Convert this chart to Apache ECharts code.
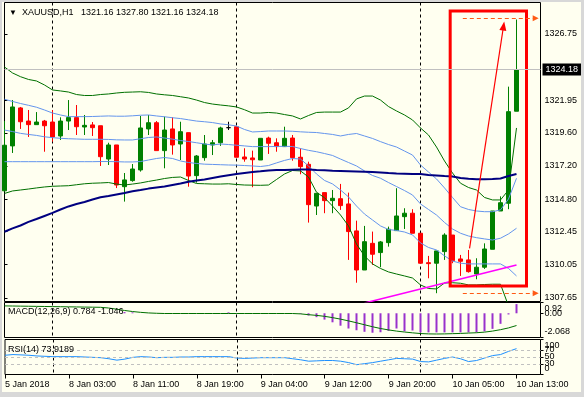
<!DOCTYPE html>
<html>
<head>
<meta charset="utf-8">
<script src="https://cdn.jsdelivr.net/npm/echarts@6/dist/echarts.min.js"></script>
<style>
html, body { margin: 0; padding: 0; background: #d8d8d8; width: 584px; height: 397px; overflow: hidden; }
#chart { position: absolute; left: 2px; top: 2px; width: 579px; height: 390px; }
</style>
</head>
<body>
<div id="chart"></div>
<script>
// H1 bars, 5 Jan 18:00 .. 10 Jan 13:00 plus 3 empty slots (chart shift)
const categories = [
  '5 Jan 18:00','5 Jan 19:00','5 Jan 20:00','5 Jan 21:00','5 Jan 22:00','5 Jan 23:00',
  '8 Jan 01:00','8 Jan 02:00','8 Jan 03:00','8 Jan 04:00','8 Jan 05:00','8 Jan 06:00','8 Jan 07:00','8 Jan 08:00',
  '8 Jan 09:00','8 Jan 10:00','8 Jan 11:00','8 Jan 12:00','8 Jan 13:00','8 Jan 14:00','8 Jan 15:00','8 Jan 16:00',
  '8 Jan 17:00','8 Jan 18:00','8 Jan 19:00','8 Jan 20:00','8 Jan 21:00','8 Jan 22:00','8 Jan 23:00',
  '9 Jan 01:00','9 Jan 02:00','9 Jan 03:00','9 Jan 04:00','9 Jan 05:00','9 Jan 06:00','9 Jan 07:00','9 Jan 08:00',
  '9 Jan 09:00','9 Jan 10:00','9 Jan 11:00','9 Jan 12:00','9 Jan 13:00','9 Jan 14:00','9 Jan 15:00','9 Jan 16:00',
  '9 Jan 17:00','9 Jan 18:00','9 Jan 19:00','9 Jan 20:00','9 Jan 21:00','9 Jan 22:00','9 Jan 23:00',
  '10 Jan 01:00','10 Jan 02:00','10 Jan 03:00','10 Jan 04:00','10 Jan 05:00','10 Jan 06:00','10 Jan 07:00','10 Jan 08:00',
  '10 Jan 09:00','10 Jan 10:00','10 Jan 11:00','10 Jan 12:00','10 Jan 13:00','10 Jan 14:00','10 Jan 15:00','10 Jan 16:00'
];
const tickIdx = [0, 8, 16, 24, 32, 40, 48, 56, 64];
const tickText = ['5 Jan 2018', '8 Jan 03:00', '8 Jan 11:00', '8 Jan 19:00', '9 Jan 04:00',
  '9 Jan 12:00', '9 Jan 20:00', '10 Jan 05:00', '10 Jan 13:00'];
const daySeps = [6, 29, 52]; // first bar of each day

const opens = [1315.40,1318.65,1321.40,1320.45,1320.19,1320.45,1320.38,1319.37,1320.45,1320.70,
  1320.02,1320.17,1320.11,1317.70,1318.72,1315.70,1316.14,1316.91,1319.88,1320.33,
  1318.31,1319.88,1318.79,1319.61,1316.50,1317.80,1318.72,1318.88,1319.97,1320.04,
  1317.85,1317.78,1317.63,1319.22,1318.88,1318.60,1319.22,1317.83,1317.32,1314.30,
  1315.27,1314.69,1314.83,1314.45,1312.50,1309.67,1311.60,1310.93,1311.65,1312.52,
  1313.53,1313.78,1312.33,1310.20,1310.16,1311.00,1312.20,1310.47,1310.40,1309.38,
  1309.87,1311.17,1313.94,1314.50,1321.16];
const highs = [1320.45,1321.97,1321.47,1321.25,1321.10,1320.53,1321.25,1320.72,1321.97,1321.61,
  1320.89,1320.38,1320.11,1318.88,1318.72,1316.69,1317.34,1320.82,1320.89,1320.45,
  1320.77,1320.72,1320.40,1319.61,1317.99,1319.44,1319.08,1320.04,1320.40,1320.04,
  1318.48,1318.31,1319.20,1319.32,1319.20,1320.04,1319.44,1318.48,1317.51,1315.22,
  1315.27,1315.46,1315.90,1315.27,1313.24,1312.86,1312.45,1311.77,1312.81,1315.59,
  1314.14,1314.07,1312.33,1310.69,1311.05,1312.33,1312.20,1310.76,1311.12,1310.52,
  1311.60,1313.94,1315.00,1322.94,1327.80];
const lows = [1315.35,1318.14,1319.88,1319.30,1320.19,1318.23,1318.96,1319.08,1319.80,1319.44,
  1319.44,1319.37,1317.20,1317.27,1315.60,1314.62,1316.06,1316.79,1319.44,1318.31,
  1317.03,1318.02,1317.63,1315.70,1315.99,1317.58,1317.99,1318.65,1319.80,1317.83,
  1317.51,1315.66,1317.63,1318.07,1318.23,1318.60,1317.58,1316.60,1313.10,1313.65,
  1313.78,1313.78,1314.02,1310.40,1308.75,1309.67,1310.04,1309.87,1311.36,1312.52,
  1312.64,1312.33,1310.16,1309.07,1307.99,1310.40,1310.16,1309.24,1309.48,1309.00,
  1309.75,1311.17,1313.94,1314.07,1321.16];
const closes = [1318.70,1321.47,1320.40,1320.19,1320.38,1320.11,1319.30,1320.45,1320.70,1320.04,
  1320.14,1319.97,1317.87,1318.72,1315.82,1316.19,1316.98,1319.95,1320.33,1318.31,
  1319.80,1318.72,1319.68,1316.47,1317.92,1318.79,1318.88,1319.95,1319.97,1317.83,
  1317.70,1317.65,1319.20,1318.84,1318.60,1319.20,1317.80,1317.15,1314.40,1315.22,
  1314.69,1314.86,1314.33,1312.45,1309.67,1311.72,1310.81,1311.70,1312.62,1313.58,
  1313.78,1312.33,1310.16,1310.13,1311.05,1312.20,1310.35,1310.30,1309.55,1309.87,
  1311.19,1313.94,1314.54,1321.13,1324.18];

// indicator lines on the price window
const greenUpper = [1324.36,1323.93,1323.66,1323.46,1323.35,1323.06,1322.70,1322.63,1322.55,1322.37,
  1322.30,1322.30,1322.37,1322.41,1322.48,1322.53,1322.55,1322.57,1322.52,1322.41,
  1322.35,1322.30,1322.21,1322.12,1321.97,1321.79,1321.68,1321.61,1321.55,1321.47,
  1321.27,1321.03,1321.03,1321.07,1321.03,1320.92,1320.82,1320.60,1320.85,1321.07,
  1321.10,1321.10,1321.10,1321.40,1322.05,1322.26,1322.26,1321.97,1321.50,1321.18,
  1320.89,1320.53,1319.95,1319.44,1318.57,1317.56,1316.69,1315.95,1315.64,1315.46,
  1314.92,1314.74,1314.74,1315.46,1319.95];
const greenLower = [1315.21,1315.39,1315.46,1315.53,1315.61,1315.68,1315.73,1315.75,1315.77,1315.84,
  1315.91,1315.95,1315.97,1316.00,1315.89,1315.82,1315.89,1315.97,1316.08,1316.18,
  1316.29,1316.37,1316.40,1316.15,1315.93,1315.91,1315.89,1315.89,1315.91,1315.86,
  1315.82,1315.81,1315.80,1315.82,1316.22,1316.62,1316.87,1316.84,1316.40,1315.30,
  1314.90,1314.30,1313.65,1312.86,1311.55,1310.69,1310.11,1309.78,1309.53,1309.38,
  1309.24,1309.09,1308.59,1308.33,1308.30,1308.73,1308.75,1308.71,1308.59,1308.59,
  1308.62,1308.64,1308.64,1307.07,1305.33];
const blueUpper = [1322.03,1321.87,1321.72,1321.59,1321.45,1321.25,1321.03,1320.89,1320.77,1320.77,
  1320.77,1320.78,1320.80,1320.82,1320.80,1320.80,1320.83,1320.87,1320.89,1320.82,
  1320.76,1320.69,1320.63,1320.54,1320.45,1320.40,1320.34,1320.24,1320.18,1320.09,
  1319.84,1319.66,1319.69,1319.73,1319.73,1319.73,1319.71,1319.67,1319.64,1319.62,
  1319.55,1319.48,1319.37,1319.48,1319.55,1319.37,1319.19,1318.96,1318.75,1318.57,
  1318.28,1317.99,1317.27,1316.76,1316.26,1315.61,1314.92,1314.25,1314.05,1313.94,
  1313.89,1313.89,1314.02,1314.81,1316.31];
const blueMiddle = [1319.80,1319.69,1319.56,1319.48,1319.41,1319.31,1319.25,1319.20,1319.17,1319.15,
  1319.13,1319.13,1319.13,1319.12,1319.09,1319.08,1319.08,1319.17,1319.26,1319.30,
  1319.22,1319.14,1319.04,1318.97,1318.88,1318.79,1318.72,1318.79,1318.75,1318.70,
  1318.65,1318.60,1318.60,1318.60,1318.61,1318.62,1318.61,1318.46,1318.33,1318.23,
  1318.10,1317.96,1317.70,1317.45,1317.20,1316.84,1316.51,1316.31,1316.00,1315.71,
  1315.42,1315.10,1314.45,1314.05,1313.65,1313.11,1312.64,1312.33,1312.13,1312.01,
  1311.92,1311.84,1311.97,1312.28,1312.69];
const blueLower = [1317.51,1317.51,1317.51,1317.51,1317.51,1317.51,1317.51,1317.51,1317.51,1317.51,
  1317.51,1317.51,1317.52,1317.52,1317.51,1317.49,1317.49,1317.52,1317.63,1317.74,
  1317.81,1317.74,1317.56,1317.45,1317.38,1317.33,1317.31,1317.29,1317.27,1317.26,
  1317.23,1317.20,1317.16,1317.23,1317.42,1317.60,1317.74,1317.70,1317.20,1316.62,
  1316.15,1315.90,1315.46,1314.96,1314.30,1313.72,1313.29,1312.86,1312.60,1312.53,
  1312.42,1312.21,1311.63,1311.30,1311.12,1310.69,1310.32,1310.16,1310.11,1310.11,
  1310.11,1310.11,1310.11,1309.78,1309.24];
const slowMa = [1312.44,1312.68,1312.89,1313.15,1313.36,1313.58,1313.80,1314.05,1314.27,1314.45,
  1314.59,1314.77,1314.93,1315.03,1315.14,1315.24,1315.37,1315.46,1315.56,1315.64,
  1315.71,1315.82,1315.93,1316.06,1316.15,1316.22,1316.33,1316.44,1316.53,1316.62,
  1316.69,1316.76,1316.81,1316.87,1316.91,1316.91,1316.93,1316.95,1316.95,1316.91,
  1316.89,1316.86,1316.84,1316.82,1316.80,1316.78,1316.76,1316.73,1316.69,1316.66,
  1316.64,1316.62,1316.62,1316.55,1316.51,1316.47,1316.44,1316.33,1316.27,1316.24,
  1316.24,1316.26,1316.29,1316.47,1316.62];

// MACD(12,26,9) and RSI(14)
const macdMain = [0,0,0,0,0,0,0,0,0,0,
  0,0,0,0,0,0.1,0.08,0,0,0,
  0,0,0,0,0,0,0,0,0.08,0,
  0,0,0,0,0,0,0,-0.05,-0.19,-0.33,
  -0.54,-0.77,-1.06,-1.3,-1.45,-1.58,-1.66,-1.62,-1.5,-1.3,
  -1.54,-1.47,-1.63,-1.63,-1.63,-1.63,-1.63,-1.63,-1.63,-1.63,
  -1.54,-1.33,-0.9,-0.1,0.784];
const macdSignal = [0.63,0.62,0.61,0.60,0.59,0.58,0.57,0.56,0.55,0.54,
  0.53,0.52,0.51,0.45,0.35,0.24,0.15,0.08,0.03,0.0,
  -0.02,-0.02,-0.02,-0.02,-0.02,-0.02,-0.02,-0.02,-0.02,-0.02,
  -0.02,-0.02,-0.02,-0.02,-0.02,-0.02,-0.02,-0.05,-0.12,-0.18,
  -0.26,-0.37,-0.50,-0.65,-0.81,-0.98,-1.15,-1.30,-1.42,-1.52,
  -1.60,-1.67,-1.73,-1.76,-1.77,-1.76,-1.74,-1.72,-1.69,-1.66,
  -1.61,-1.52,-1.40,-1.25,-1.046];
const rsi = [55,57,56,55,53,52,51,51,51,51,
  50,49,48,45,41,44,49,51,50,48,
  49,49,50,50,51,51,51,51,51,47,
  46,47,48,48,48,48,45,42,38,39,
  40,40,38,34,28,31,34,38,42,46,
  45,44,37,36,41,46,50,45,37,40,
  47,54,57,66,73.9189];

// axis tick labels (sub-window labels split into layers, they overlap in the original)
const priceTicks = [1326.75, 1321.95, 1319.60, 1317.20, 1314.80, 1312.45, 1310.05, 1307.65];
const macdRange = [-2.068, 0.92];
const macdEdgeTicks = [0.92, -2.068];
const macdEdgeText = ['0.92', '-2.068'];
const macdZeroTicks = [0];
const rsiRange = [0, 100];
const rsiEdgeTicks = [100, 0];
const rsiMidTicks = [70, 30];
const rsiCenterTicks = [50];
const rsiLevels = [70, 50, 30];

// drawn objects (bar index, price)
const trendLine = [[45, 1307.28], [64.0, 1310.03]];
const boxX = [55.71, 65.25];
const boxY = [1308.52, 1328.41];
const arrowUp = [[58.13, 1311.24], [62.38, 1327.33]];
const hiMark = [[57.29, 1327.89], [66.4, 1327.89]];
const loMark = [[57.29, 1307.99], [66.4, 1307.99]];

const FONT = '"Liberation Sans", Arial, sans-serif';
const last = closes.length - 1;
const candles = opens.map((o, i) => [o, closes[i], lows[i], highs[i]]);
const isSep = (idx) => daySeps.indexOf(idx) >= 0;
const isTick = (idx) => tickIdx.indexOf(idx) >= 0;

const sepLine = { show: true, interval: isSep, lineStyle: { color: '#000', width: 1, type: [3, 3] } };
const boxPath = [[boxX[0], boxY[1]], [boxX[1], boxY[1]], [boxX[1], boxY[0]], [boxX[0], boxY[0]], [boxX[0], boxY[1]]];

const grids = [
  { left: 2.5, top: 0.5, width: 536, height: 299 },
  { left: 2.5, top: 300.5, width: 536, height: 35 },
  { left: 2.5, top: 337.5, width: 536, height: 35 }
].map(g => Object.assign(g, { show: true, borderColor: '#000', borderWidth: 1, backgroundColor: '#fffff0' }));

const catAxis = (gi) => ({
  type: 'category', gridIndex: gi, data: categories, boundaryGap: false,
  axisLine: { show: false }, axisTick: { show: false }, axisLabel: { show: false },
  splitLine: sepLine
});

// right-hand value axis showing only the given labels
const valAxis = (gi, range, ticks, formatter, rich) => ({
  type: 'value', gridIndex: gi, position: 'right', min: range[0], max: range[1],
  axisLine: { show: false }, splitLine: { show: false },
  axisTick: { show: true, customValues: ticks, length: 3, lineStyle: { color: '#000' } },
  axisLabel: {
    customValues: ticks, margin: 4, fontSize: 9, color: '#000', fontFamily: FONT,
    showMinLabel: true, showMaxLabel: true, hideOverlap: false, formatter, rich
  }
});

const edgeRich = { hi: { padding: [13, 0, 0, 0], fontSize: 9 }, lo: { padding: [0, 0, 12, 0], fontSize: 9 } };

const lineSeries = (name, data, color, width) => ({
  name, type: 'line', data, xAxisIndex: 0, yAxisIndex: 0,
  showSymbol: false, symbol: 'none', silent: true,
  lineStyle: { color, width }
});

const textBase = { fontSize: 9, color: '#000', fontFamily: FONT };

const myChart = echarts.init(document.getElementById('chart'));
const option = {
  animation: false,
  backgroundColor: '#fffff0',
  textStyle: { fontFamily: FONT },
  title: [
    {
      text: '{tri|▼}XAUUSD,H1   ' + [opens[last], highs[last], lows[last], closes[last]].map(v => v.toFixed(2)).join(' '),
      left: 7, top: 6, padding: 0,
      textStyle: Object.assign({ fontWeight: 'normal', rich: { tri: { fontSize: 8, padding: [0, 5, 0, 0], color: '#000' } } }, textBase)
    },
    {
      text: 'MACD(12,26,9) ' + macdMain[last].toFixed(3) + ' ' + macdSignal[last].toFixed(3),
      left: 6, top: 305.5, padding: 0,
      textStyle: Object.assign({ fontWeight: 'normal' }, textBase)
    },
    {
      text: 'RSI(14) ' + rsi[last].toFixed(4),
      left: 6, top: 343, padding: 0,
      textStyle: Object.assign({ fontWeight: 'normal' }, textBase)
    }
  ],
  grid: grids,
  xAxis: [
    catAxis(0),
    catAxis(1),
    Object.assign(catAxis(2), {
      axisTick: { show: true, interval: isTick, length: 4, lineStyle: { color: '#000' } },
      axisLabel: {
        show: true, interval: isTick, align: 'left', margin: 6,
        fontSize: 9, color: '#000', fontFamily: FONT,
        formatter: (v, idx) => tickText[tickIdx.indexOf(idx)] || ''
      }
    }),
    { type: 'value', gridIndex: 0, min: 0, max: categories.length - 1, show: false }
  ],
  yAxis: [
    valAxis(0, [1307.39, 1329.03], priceTicks, v => v.toFixed(2)),
    valAxis(1, macdRange, macdEdgeTicks, v => {
      const k = macdEdgeTicks.indexOf(v);
      return (k === 0 ? '{hi|' : '{lo|') + macdEdgeText[k] + '}';
    }, edgeRich),
    valAxis(2, rsiRange, rsiEdgeTicks, v => (v === rsiEdgeTicks[0] ? '{hi|' : '{lo|') + v + '}', edgeRich),
    valAxis(1, macdRange, macdZeroTicks, v => v.toFixed(2)),
    valAxis(2, rsiRange, rsiMidTicks, v => String(v)),
    valAxis(2, rsiRange, rsiCenterTicks, v => String(v))
  ],
  series: [
    {
      name: 'XAUUSD', type: 'candlestick', data: candles, xAxisIndex: 0, yAxisIndex: 0,
      barWidth: 4, silent: true,
      itemStyle: {
        color: '#008000', color0: '#ff0000',
        borderColor: '#008000', borderColor0: '#ff0000', borderColorDoji: '#000000', borderWidth: 1
      },
      markLine: {
        silent: true, symbol: ['none', 'none'], animation: false,
        lineStyle: { color: '#c0c0c0', type: 'solid', width: 1 },
        label: {
          show: true, position: 'end', distance: 2, formatter: closes[last].toFixed(2),
          color: '#fff', backgroundColor: '#000', padding: [2, 3, 1, 3], fontSize: 9, fontFamily: FONT
        },
        data: [{ yAxis: closes[last] }]
      }
    },
    lineSeries('Bands up', greenUpper, '#007000', 1),
    lineSeries('Bands low', greenLower, '#007000', 1),
    lineSeries('BB up', blueUpper, '#6495ed', 1),
    lineSeries('BB mid', blueMiddle, '#6495ed', 1),
    lineSeries('BB low', blueLower, '#6495ed', 1),
    lineSeries('MA', slowMa, '#000080', 2),
    {
      name: 'trend', type: 'line', data: trendLine, xAxisIndex: 3, yAxisIndex: 0,
      showSymbol: false, symbol: 'none', silent: true,
      lineStyle: { color: '#ff00ff', width: 1.5 }
    },
    {
      name: 'box', type: 'line', data: boxPath, xAxisIndex: 3, yAxisIndex: 0,
      showSymbol: false, symbol: 'none', silent: true,
      lineStyle: { color: '#ff0000', width: 3, join: 'miter', cap: 'square' },
      markLine: {
        silent: true, animation: false, symbol: ['none', 'triangle'],
        label: { show: false },
        data: [
          [{ coord: arrowUp[0] }, { coord: arrowUp[1], symbolSize: [7, 9] }],
          [{ coord: hiMark[0] }, { coord: hiMark[1], symbolSize: [6, 6] }],
          [{ coord: loMark[0] }, { coord: loMark[1], symbolSize: [6, 6] }]
        ].map((d, k) => {
          d[0].lineStyle = k === 0
            ? { color: '#ff0000', width: 1.2, type: 'solid' }
            : { color: '#ff5a14', width: 1, type: [4, 3] };
          d[1].itemStyle = { color: k === 0 ? '#ff0000' : '#ff5a14' };
          return d;
        })
      }
    },
    {
      name: 'MACD', type: 'bar', data: macdMain, xAxisIndex: 1, yAxisIndex: 1,
      barWidth: 2, silent: true, itemStyle: { color: '#9932cc' }
    },
    {
      name: 'Signal', type: 'line', data: macdSignal, xAxisIndex: 1, yAxisIndex: 1,
      showSymbol: false, symbol: 'none', silent: true, lineStyle: { color: '#007000', width: 1 }
    },
    {
      name: 'RSI', type: 'line', data: rsi, xAxisIndex: 2, yAxisIndex: 2,
      showSymbol: false, symbol: 'none', silent: true, lineStyle: { color: '#1e90ff', width: 1 },
      markLine: {
        silent: true, animation: false, symbol: ['none', 'none'], label: { show: false },
        lineStyle: { color: '#c0c0c0', type: [3, 3], width: 1 },
        data: rsiLevels.map(v => ({ yAxis: v }))
      }
    }
  ]
};
myChart.setOption(option);
window.addEventListener('resize', () => myChart.resize());
</script>
</body>
</html>
